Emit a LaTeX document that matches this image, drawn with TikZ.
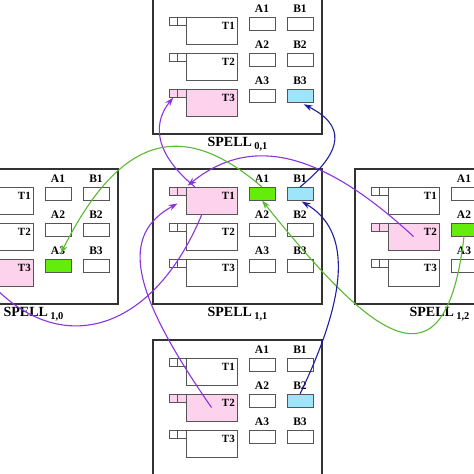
\documentclass[tikz,border=0pt]{standalone}
\usepackage{fontspec}
\setmainfont{Liberation Serif}
\usetikzlibrary{arrows.meta,calc}

\definecolor{tpink}{RGB}{253,210,236}
\definecolor{agreen}{RGB}{100,236,10}
\definecolor{bcyan}{RGB}{158,228,250}
\definecolor{lpurple}{RGB}{138,50,222}
\definecolor{lgreen}{RGB}{90,186,50}
\definecolor{lblue}{RGB}{30,30,160}
\definecolor{pgray}{RGB}{50,50,50}
\definecolor{bgray}{RGB}{85,85,85}

\begin{document}
\begin{tikzpicture}[x=1pt,y=-1pt,
    panel/.style={draw=pgray,line width=1.4pt},
    box/.style={draw=bgray,line width=0.9pt,inner sep=0pt,outer sep=0pt,anchor=north west},
    tbox/.style={box,minimum width=51pt,minimum height=27pt},
    sq/.style={box,minimum width=8.5pt,minimum height=8.5pt},
    abox/.style={box,minimum width=26pt,minimum height=13.5pt},
    tlab/.style={anchor=north east,inner sep=0pt,xshift=-2pt,yshift=-4.7pt,font=\fontsize{11}{11}\selectfont\bfseries},
    alab/.style={anchor=south,inner sep=0pt,yshift=4.3pt,font=\fontsize{11.5}{11.5}\selectfont\bfseries},
    spell/.style={anchor=north,inner sep=0pt,font=\fontsize{14}{14}\selectfont\bfseries},
    link/.style={line width=1.1pt,-{Stealth[length=9pt,width=6pt]}}]

    \useasboundingbox (0,0) rectangle (474,474);
    \clip (0,0) rectangle (474,474);

    \foreach \i/\j/\px/\py/\tp/\ap/\bp in {0/1/153/-1/3/0/3, 1/0/-51/169/3/3/0, 1/1/153/169/1/1/1, 1/2/355/169/2/2/0, 2/1/153/340/2/0/2} {
        \draw[panel] (\px,\py) rectangle ++(169,135);
        \node[spell] (l\i\j) at (\px+84.5,\py+137.7) {SPELL\,\raisebox{-3.5pt}{\fontsize{10.5}{10.5}\selectfont\i,\j}};
        \foreach \r in {1,2,3} {
            \pgfmathsetmacro\ry{\py+18+36*(\r-1)}
            \ifnum\r=\tp \def\tf{tpink}\else\def\tf{white}\fi
            \ifnum\r=\ap \def\af{agreen}\else\def\af{white}\fi
            \ifnum\r=\bp \def\bfl{bcyan}\else\def\bfl{white}\fi
            \node[sq,fill=\tf] (s\i\j-P\r) at (\px+16,\ry) {};
            \node[sq,fill=\tf] (s\i\j-Q\r) at (\px+24.5,\ry) {};
            \node[tbox,fill=\tf,label={[tlab]north east:T\r}] (s\i\j-T\r) at (\px+33,\ry) {};
            \node[abox,fill=\af,label={[alab]above:A\r}] (s\i\j-A\r) at (\px+96,\ry) {};
            \node[abox,fill=\bfl,label={[alab]above:B\r}] (s\i\j-B\r) at (\px+134,\ry) {};
        }
    }

    \draw[link,lpurple] ($(s11-T1.north west)+(9,0)$) .. controls (150,150) and (155,120) .. (s01-P3.south);
    \draw[link,lpurple,shorten >=2pt] (s12-T2.center) .. controls (320,150) and (250,135) .. (s11-Q1.north east);
    \draw[link,lpurple] (s21-T2.center) .. controls (130,290) and (120,235) .. ($(s11-Q1.south west)+(0,8)$);
    \draw[link,lpurple] ($(s11-T1.south west)+(16,0)$) .. controls (150,340) and (50,360) .. (s10-Q3.south);

    \draw[link,lgreen] (s12-A2.south) .. controls (445,400) and (370,335) .. (s11-A1.south);
    \draw[link,lgreen,shorten >=6pt] (s11-A1.north) .. controls (190,125) and (125,125) .. (s10-A3.north);

    \draw[link,lblue,shorten >=4pt] (s11-B1.north) .. controls (345,150) and (345,125) .. (s01-B3.south);
    \draw[link,lblue,shorten >=2pt] (s21-B2.north) .. controls (350,290) and (350,230) .. (s11-B1.south);
\end{tikzpicture}
\end{document}
